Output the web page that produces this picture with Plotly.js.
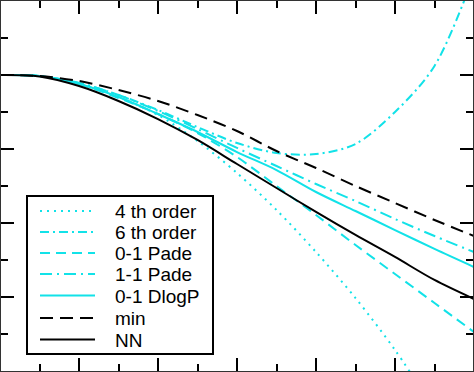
<!DOCTYPE html>
<html>
<head>
<meta charset="utf-8">
<script src="https://cdn.plot.ly/plotly-3.0.1.min.js"></script>
<style>
  html, body { margin: 0; padding: 0; background: #fff; }
  #plot { width: 474px; height: 372px; }
</style>
</head>
<body>
<div id="plot"></div>
<script>
// x positions (same for all series; 4th order leaves the frame early)
const xVals   = [0, 0.5, 1, 1.5, 2, 2.5, 3, 3.5, 4, 4.5, 5, 5.5, 6];
const ord4    = [4.000, 3.986, 3.878, 3.703, 3.459, 3.108, 2.676, 2.176, 1.608, 0.986, 0.284, -0.52];
const ord6    = [4.000, 3.986, 3.892, 3.730, 3.527, 3.297, 3.081, 2.946, 2.932, 3.068, 3.500, 4.122, 5.351];
const pade01  = [4.000, 3.986, 3.878, 3.689, 3.473, 3.216, 2.892, 2.500, 2.108, 1.703, 1.311, 0.919, 0.527];
const pade11  = [4.000, 3.986, 3.892, 3.730, 3.514, 3.270, 3.014, 2.770, 2.527, 2.297, 2.054, 1.824, 1.608];
const dlogp   = [4.000, 3.986, 3.878, 3.703, 3.473, 3.230, 2.959, 2.716, 2.419, 2.162, 1.905, 1.649, 1.405];
const minCurve= [4.000, 3.986, 3.919, 3.797, 3.649, 3.459, 3.243, 2.973, 2.743, 2.500, 2.270, 2.041, 1.824];
const nn      = [4.000, 3.980, 3.851, 3.649, 3.405, 3.122, 2.797, 2.473, 2.149, 1.838, 1.541, 1.230, 0.973];
const names   = ['4 th order', '6 th order', '0-1 Pade', '1-1 Pade', '0-1 DlogP', 'min', 'NN'];

const CYAN = '#12e2e8';
function tr(name, y, color, dash) {
  return {
    type: 'scatter', mode: 'lines', name: name,
    x: xVals.slice(0, y.length), y: y,
    line: { color: color, width: 2, dash: dash, shape: 'spline', smoothing: 0.9 },
    hoverinfo: 'skip'
  };
}
const data = [
  tr(names[0], ord4, CYAN, '2px,5px'),
  tr(names[1], ord6, CYAN, '9px,4px,2px,4px'),
  tr(names[2], pade01, CYAN, '10px,6px'),
  tr(names[3], pade11, CYAN, '12px,5px,2px,5px'),
  tr(names[4], dlogp, CYAN, 'solid'),
  tr(names[5], minCurve, '#000', '13px,7px'),
  tr(names[6], nn, '#000', 'solid')
];

const axisCommon = {
  showgrid: false, zeroline: false, showticklabels: false,
  showline: true, linecolor: '#333', linewidth: 2, mirror: 'ticks',
  ticks: 'inside', ticklen: 13, tickwidth: 2, tickcolor: '#000',
  dtick: 1, tick0: 0,
  minor: { ticks: 'inside', ticklen: 7, tickwidth: 2, tickcolor: '#000', dtick: 0.5, tick0: 0 }
};
const layout = {
  width: 474, height: 372,
  margin: { l: 1, r: 1, t: 1, b: 1, pad: 0, autoexpand: false },
  paper_bgcolor: '#fff', plot_bgcolor: '#fff',
  font: { family: '"Liberation Sans", Arial, sans-serif', color: '#000', size: 19 },
  xaxis: Object.assign({}, axisCommon, { range: [1/79, 473/79] }),
  yaxis: Object.assign({}, axisCommon, { range: [0, 5] }),
  showlegend: true,
  legend: {
    x: 26/472, y: 1 - 195/370, xanchor: 'left', yanchor: 'top',
    bgcolor: '#fff', bordercolor: '#000', borderwidth: 2,
    font: { size: 19, family: '"Liberation Sans", Arial, sans-serif', color: '#000' },
    itemwidth: 60, tracegroupgap: 0
  }
};

Plotly.newPlot('plot', data, layout, { staticPlot: true, displayModeBar: false }).then(function (gd) {
  // compact the legend to the reference's geometry
  const leg = gd.querySelector('g.legend');
  if (!leg) return;
  leg.setAttribute('transform', 'translate(27,196)');
  const bg = leg.querySelector('rect.bg');
  if (bg) {
    bg.setAttribute('x', 0); bg.setAttribute('y', 0);
    bg.setAttribute('width', 186); bg.setAttribute('height', 158);
  }
  const sb = leg.querySelector('g.scrollbox');
  if (sb) { sb.removeAttribute('clip-path'); sb.setAttribute('transform', 'translate(0,0)'); }
  const rows = [15, 36, 57, 78, 99.5, 122, 143.5];
  leg.querySelectorAll('g.traces').forEach(function (g, i) {
    g.setAttribute('transform', 'translate(0,' + rows[i] + ')');
    g.querySelectorAll('g.legendlines path').forEach(function (p) { p.setAttribute('d', 'M13,0h55'); });
    const t = g.querySelector('text.legendtext');
    if (t) {
      t.setAttribute('x', 88);
      t.querySelectorAll('tspan').forEach(function (s) { if (s.hasAttribute('x')) s.setAttribute('x', 88); });
    }
  });
});
</script>
</body>
</html>
